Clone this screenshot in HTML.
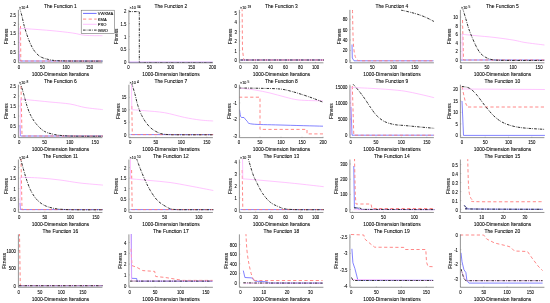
<!DOCTYPE html>
<html><head><meta charset="utf-8"><style>
html,body{margin:0;padding:0;background:#fff;width:550px;height:303px;overflow:hidden}
svg{display:block;will-change:transform;filter:blur(0.3px)}
text{font-family:"Liberation Sans",sans-serif;stroke:#000;stroke-width:0.08px}
</style></head><body>
<svg width="550" height="303" viewBox="0 0 550 303" font-family="Liberation Sans, sans-serif" fill="#000"><defs><clipPath id="c0"><rect x="18.40" y="9.40" width="84.50" height="53.40"/></clipPath><clipPath id="c1"><rect x="128.90" y="9.40" width="84.50" height="53.40"/></clipPath><clipPath id="c2"><rect x="239.40" y="9.40" width="84.50" height="53.40"/></clipPath><clipPath id="c3"><rect x="349.90" y="9.40" width="84.50" height="53.40"/></clipPath><clipPath id="c4"><rect x="460.40" y="9.40" width="84.50" height="53.40"/></clipPath><clipPath id="c5"><rect x="18.40" y="84.23" width="84.50" height="53.40"/></clipPath><clipPath id="c6"><rect x="128.90" y="84.23" width="84.50" height="53.40"/></clipPath><clipPath id="c7"><rect x="239.40" y="84.23" width="84.50" height="53.40"/></clipPath><clipPath id="c8"><rect x="349.90" y="84.23" width="84.50" height="53.40"/></clipPath><clipPath id="c9"><rect x="460.40" y="84.23" width="84.50" height="53.40"/></clipPath><clipPath id="c10"><rect x="18.40" y="159.06" width="84.50" height="53.40"/></clipPath><clipPath id="c11"><rect x="128.90" y="159.06" width="84.50" height="53.40"/></clipPath><clipPath id="c12"><rect x="239.40" y="159.06" width="84.50" height="53.40"/></clipPath><clipPath id="c13"><rect x="349.90" y="159.06" width="84.50" height="53.40"/></clipPath><clipPath id="c14"><rect x="460.40" y="159.06" width="84.50" height="53.40"/></clipPath><clipPath id="c15"><rect x="18.40" y="233.89" width="84.50" height="53.40"/></clipPath><clipPath id="c16"><rect x="128.90" y="233.89" width="84.50" height="53.40"/></clipPath><clipPath id="c17"><rect x="239.40" y="233.89" width="84.50" height="53.40"/></clipPath><clipPath id="c18"><rect x="349.90" y="233.89" width="84.50" height="53.40"/></clipPath><clipPath id="c19"><rect x="460.40" y="233.89" width="84.50" height="53.40"/></clipPath></defs><g><g clip-path="url(#c0)">
<path d="M19.50,54.00 L19.80,61.00 L102.50,61.00" stroke="#5a5aff" stroke-width="0.75" fill="none"/>
<path d="M20.50,26.00 L20.80,61.00 L102.50,61.00" stroke="#ff7a7a" stroke-width="0.9" fill="none" stroke-dasharray="3.2,2.4"/>
<path d="M19.50,61.00 L19.80,28.50" stroke="#ffb2ff" stroke-width="0.75" fill="none"/>
<path d="M19.80,28.50 C20.25,28.50 17.47,28.17 22.50,28.50 C27.53,28.83 41.67,29.75 50.00,30.50 C58.33,31.25 66.67,32.20 72.50,33.00 C78.33,33.80 80.00,34.85 85.00,35.30 C90.00,35.75 99.58,35.63 102.50,35.70" stroke="#ffb2ff" stroke-width="0.75" fill="none"/>
<path d="M19.60,8.00 C19.98,9.32 21.18,13.10 21.90,15.90 C22.62,18.70 23.07,21.67 23.90,24.80 C24.73,27.93 25.75,31.40 26.90,34.70 C28.05,38.00 29.48,41.80 30.80,44.60 C32.12,47.40 33.15,49.45 34.80,51.50 C36.45,53.55 38.38,55.57 40.70,56.90 C43.02,58.23 46.15,58.88 48.70,59.50 C51.25,60.12 52.45,60.35 56.00,60.60 C59.55,60.85 62.25,60.92 70.00,61.00 C77.75,61.08 97.08,61.08 102.50,61.10" stroke="#2e2e2e" stroke-width="1.0" fill="none" stroke-dasharray="2.6,1.1,0.7,1.1"/>
</g>
<path d="M18.40,9.90 L18.40,62.80 L102.40,62.80" stroke="#707070" stroke-width="0.75" fill="none"/>
<path d="M18.40,61.00 h0.9" stroke="#707070" stroke-width="0.4"/>
<text text-anchor="end" font-size="4.8" transform="translate(16.00,63.00) scale(0.9,1)">0</text>
<path d="M18.40,51.80 h0.9" stroke="#707070" stroke-width="0.4"/>
<text text-anchor="end" font-size="4.8" transform="translate(16.00,53.80) scale(0.9,1)">0.5</text>
<path d="M18.40,42.60 h0.9" stroke="#707070" stroke-width="0.4"/>
<text text-anchor="end" font-size="4.8" transform="translate(16.00,44.60) scale(0.9,1)">1</text>
<path d="M18.40,33.40 h0.9" stroke="#707070" stroke-width="0.4"/>
<text text-anchor="end" font-size="4.8" transform="translate(16.00,35.40) scale(0.9,1)">1.5</text>
<path d="M18.40,24.20 h0.9" stroke="#707070" stroke-width="0.4"/>
<text text-anchor="end" font-size="4.8" transform="translate(16.00,26.20) scale(0.9,1)">2</text>
<path d="M18.40,15.00 h0.9" stroke="#707070" stroke-width="0.4"/>
<text text-anchor="end" font-size="4.8" transform="translate(16.00,17.00) scale(0.9,1)">2.5</text>
<path d="M19.00,62.80 v-0.9" stroke="#707070" stroke-width="0.4"/>
<text text-anchor="middle" font-size="4.8" transform="translate(19.00,69.30) scale(0.9,1)">0</text>
<path d="M42.50,62.80 v-0.9" stroke="#707070" stroke-width="0.4"/>
<text text-anchor="middle" font-size="4.8" transform="translate(42.50,69.30) scale(0.9,1)">50</text>
<path d="M66.00,62.80 v-0.9" stroke="#707070" stroke-width="0.4"/>
<text text-anchor="middle" font-size="4.8" transform="translate(66.00,69.30) scale(0.9,1)">100</text>
<path d="M89.50,62.80 v-0.9" stroke="#707070" stroke-width="0.4"/>
<text text-anchor="middle" font-size="4.8" transform="translate(89.50,69.30) scale(0.9,1)">150</text>
<text text-anchor="middle" font-size="5.30" transform="translate(60.40,8.00) scale(0.930,1)" class="b">The Function 1</text>
<text text-anchor="middle" font-size="5.30" transform="translate(60.40,76.10) scale(0.930,1)" class="b">1000-Dimension Iterations</text>
<text x="0" y="0" text-anchor="middle" font-size="5.3" transform="translate(7.87,36.35) rotate(-90) scale(0.93,1)">Fitness</text>
<text x="0.00" y="9.50" font-size="4.0" transform="translate(19.00,0) scale(0.92,1) translate(0.00,0)">&#215;10<tspan font-size="3.6" dx="1.4" dy="-1.5">4</tspan></text>
<g clip-path="url(#c1)">
<path d="M128.50,62.30 L212.50,62.30" stroke="#5a5aff" stroke-width="0.75" fill="none"/>
<path d="M128.50,62.10 L212.50,62.10" stroke="#ffb2ff" stroke-width="0.75" fill="none"/>
<path d="M128.50,11.60 L139.30,11.60 L139.30,62.60 L212.50,62.60" stroke="#2e2e2e" stroke-width="1.0" fill="none" stroke-dasharray="2.6,1.1,0.7,1.1"/>
</g>
<path d="M128.90,9.90 L128.90,62.80 L212.90,62.80" stroke="#707070" stroke-width="0.75" fill="none"/>
<path d="M128.90,62.30 h0.9" stroke="#707070" stroke-width="0.4"/>
<text text-anchor="end" font-size="4.8" transform="translate(126.50,64.30) scale(0.9,1)">0</text>
<path d="M128.90,49.40 h0.9" stroke="#707070" stroke-width="0.4"/>
<text text-anchor="end" font-size="4.8" transform="translate(126.50,51.40) scale(0.9,1)">0.5</text>
<path d="M128.90,36.50 h0.9" stroke="#707070" stroke-width="0.4"/>
<text text-anchor="end" font-size="4.8" transform="translate(126.50,38.50) scale(0.9,1)">1</text>
<path d="M128.90,23.60 h0.9" stroke="#707070" stroke-width="0.4"/>
<text text-anchor="end" font-size="4.8" transform="translate(126.50,25.60) scale(0.9,1)">1.5</text>
<path d="M128.90,10.70 h0.9" stroke="#707070" stroke-width="0.4"/>
<text text-anchor="end" font-size="4.8" transform="translate(126.50,12.70) scale(0.9,1)">2</text>
<path d="M128.50,62.80 v-0.9" stroke="#707070" stroke-width="0.4"/>
<text text-anchor="middle" font-size="4.8" transform="translate(128.50,69.30) scale(0.9,1)">0</text>
<path d="M149.50,62.80 v-0.9" stroke="#707070" stroke-width="0.4"/>
<text text-anchor="middle" font-size="4.8" transform="translate(149.50,69.30) scale(0.9,1)">50</text>
<path d="M170.50,62.80 v-0.9" stroke="#707070" stroke-width="0.4"/>
<text text-anchor="middle" font-size="4.8" transform="translate(170.50,69.30) scale(0.9,1)">100</text>
<path d="M191.50,62.80 v-0.9" stroke="#707070" stroke-width="0.4"/>
<text text-anchor="middle" font-size="4.8" transform="translate(191.50,69.30) scale(0.9,1)">150</text>
<path d="M212.50,62.80 v-0.9" stroke="#707070" stroke-width="0.4"/>
<text text-anchor="middle" font-size="4.8" transform="translate(212.50,69.30) scale(0.9,1)">200</text>
<text text-anchor="middle" font-size="5.30" transform="translate(170.90,8.00) scale(0.930,1)" class="b">The Function 2</text>
<text text-anchor="middle" font-size="5.30" transform="translate(170.90,76.10) scale(0.930,1)" class="b">1000-Dimension Iterations</text>
<text x="0" y="0" text-anchor="middle" font-size="5.3" transform="translate(118.37,36.35) rotate(-90) scale(0.93,1)">Fitness</text>
<text x="0.00" y="9.50" font-size="4.0" transform="translate(129.50,0) scale(0.92,1) translate(0.00,0)">&#215;10<tspan font-size="3.6" dx="1.4" dy="-1.5">34</tspan></text>
<g clip-path="url(#c2)">
<path d="M240.50,60.00 L324.00,60.00" stroke="#5a5aff" stroke-width="0.75" fill="none"/>
<path d="M242.10,8.00 L242.50,50.00 L243.80,60.00 L324.00,60.00" stroke="#ff7a7a" stroke-width="0.9" fill="none" stroke-dasharray="3.2,2.4"/>
<path d="M240.50,60.00 L324.00,60.00" stroke="#ffb2ff" stroke-width="0.75" fill="none"/>
<path d="M240.50,60.00 L324.00,60.00" stroke="#2e2e2e" stroke-width="1.0" fill="none" stroke-dasharray="2.6,1.1,0.7,1.1"/>
</g>
<path d="M239.40,9.90 L239.40,62.80 L323.40,62.80" stroke="#707070" stroke-width="0.75" fill="none"/>
<path d="M239.40,60.00 h0.9" stroke="#707070" stroke-width="0.4"/>
<text text-anchor="end" font-size="4.8" transform="translate(237.00,62.00) scale(0.9,1)">0</text>
<path d="M239.40,50.50 h0.9" stroke="#707070" stroke-width="0.4"/>
<text text-anchor="end" font-size="4.8" transform="translate(237.00,52.50) scale(0.9,1)">1</text>
<path d="M239.40,41.00 h0.9" stroke="#707070" stroke-width="0.4"/>
<text text-anchor="end" font-size="4.8" transform="translate(237.00,43.00) scale(0.9,1)">2</text>
<path d="M239.40,31.50 h0.9" stroke="#707070" stroke-width="0.4"/>
<text text-anchor="end" font-size="4.8" transform="translate(237.00,33.50) scale(0.9,1)">3</text>
<path d="M239.40,22.00 h0.9" stroke="#707070" stroke-width="0.4"/>
<text text-anchor="end" font-size="4.8" transform="translate(237.00,24.00) scale(0.9,1)">4</text>
<path d="M239.40,12.50 h0.9" stroke="#707070" stroke-width="0.4"/>
<text text-anchor="end" font-size="4.8" transform="translate(237.00,14.50) scale(0.9,1)">5</text>
<path d="M240.50,62.80 v-0.9" stroke="#707070" stroke-width="0.4"/>
<text text-anchor="middle" font-size="4.8" transform="translate(240.50,69.30) scale(0.9,1)">0</text>
<path d="M255.50,62.80 v-0.9" stroke="#707070" stroke-width="0.4"/>
<text text-anchor="middle" font-size="4.8" transform="translate(255.50,69.30) scale(0.9,1)">20</text>
<path d="M270.50,62.80 v-0.9" stroke="#707070" stroke-width="0.4"/>
<text text-anchor="middle" font-size="4.8" transform="translate(270.50,69.30) scale(0.9,1)">40</text>
<path d="M285.50,62.80 v-0.9" stroke="#707070" stroke-width="0.4"/>
<text text-anchor="middle" font-size="4.8" transform="translate(285.50,69.30) scale(0.9,1)">60</text>
<path d="M300.50,62.80 v-0.9" stroke="#707070" stroke-width="0.4"/>
<text text-anchor="middle" font-size="4.8" transform="translate(300.50,69.30) scale(0.9,1)">80</text>
<path d="M315.50,62.80 v-0.9" stroke="#707070" stroke-width="0.4"/>
<text text-anchor="middle" font-size="4.8" transform="translate(315.50,69.30) scale(0.9,1)">100</text>
<text text-anchor="middle" font-size="5.30" transform="translate(281.40,8.00) scale(0.930,1)" class="b">The Function 3</text>
<text text-anchor="middle" font-size="5.30" transform="translate(281.40,76.10) scale(0.930,1)" class="b">1000-Dimension Iterations</text>
<text x="0" y="0" text-anchor="middle" font-size="5.3" transform="translate(232.46,36.35) rotate(-90) scale(0.93,1)">Fitness</text>
<text x="0.00" y="9.50" font-size="4.0" transform="translate(240.00,0) scale(0.92,1) translate(0.00,0)">&#215;10<tspan font-size="3.6" dx="1.4" dy="-1.5">19</tspan></text>
<g clip-path="url(#c3)">
<path d="M352.00,44.50 L352.30,58.00 L354.00,60.80 L433.50,60.80" stroke="#5a5aff" stroke-width="0.75" fill="none"/>
<path d="M352.50,10.00 C352.62,15.00 352.85,32.67 353.20,40.00 C353.55,47.33 353.97,50.70 354.60,54.00 C355.23,57.30 356.10,58.70 357.00,59.80 C357.90,60.90 359.17,60.43 360.00,60.60 C360.83,60.77 361.67,60.77 362.00,60.80" stroke="#ff7a7a" stroke-width="0.9" fill="none" stroke-dasharray="3.2,2.4"/>
<path d="M362.00,60.80 L433.50,60.80" stroke="#ff7a7a" stroke-width="0.9" fill="none" stroke-dasharray="3.2,2.4"/>
<path d="M401.00,10.00 C403.33,10.58 411.00,12.33 415.00,13.50 C419.00,14.67 421.83,15.67 425.00,17.00 C428.17,18.33 432.50,20.75 434.00,21.50" stroke="#2e2e2e" stroke-width="1.0" fill="none" stroke-dasharray="2.6,1.1,0.7,1.1"/>
</g>
<path d="M349.90,9.90 L349.90,62.80 L433.90,62.80" stroke="#707070" stroke-width="0.75" fill="none"/>
<path d="M349.90,60.80 h0.9" stroke="#707070" stroke-width="0.4"/>
<text text-anchor="end" font-size="4.8" transform="translate(347.50,62.80) scale(0.9,1)">0</text>
<path d="M349.90,50.40 h0.9" stroke="#707070" stroke-width="0.4"/>
<text text-anchor="end" font-size="4.8" transform="translate(347.50,52.40) scale(0.9,1)">20</text>
<path d="M349.90,40.00 h0.9" stroke="#707070" stroke-width="0.4"/>
<text text-anchor="end" font-size="4.8" transform="translate(347.50,42.00) scale(0.9,1)">40</text>
<path d="M349.90,29.60 h0.9" stroke="#707070" stroke-width="0.4"/>
<text text-anchor="end" font-size="4.8" transform="translate(347.50,31.60) scale(0.9,1)">60</text>
<path d="M349.90,19.20 h0.9" stroke="#707070" stroke-width="0.4"/>
<text text-anchor="end" font-size="4.8" transform="translate(347.50,21.20) scale(0.9,1)">80</text>
<path d="M351.00,62.80 v-0.9" stroke="#707070" stroke-width="0.4"/>
<text text-anchor="middle" font-size="4.8" transform="translate(351.00,69.30) scale(0.9,1)">0</text>
<path d="M372.30,62.80 v-0.9" stroke="#707070" stroke-width="0.4"/>
<text text-anchor="middle" font-size="4.8" transform="translate(372.30,69.30) scale(0.9,1)">50</text>
<path d="M393.60,62.80 v-0.9" stroke="#707070" stroke-width="0.4"/>
<text text-anchor="middle" font-size="4.8" transform="translate(393.60,69.30) scale(0.9,1)">100</text>
<path d="M414.90,62.80 v-0.9" stroke="#707070" stroke-width="0.4"/>
<text text-anchor="middle" font-size="4.8" transform="translate(414.90,69.30) scale(0.9,1)">150</text>
<text text-anchor="middle" font-size="5.30" transform="translate(391.90,8.00) scale(0.930,1)" class="b">The Function 4</text>
<text text-anchor="middle" font-size="5.30" transform="translate(391.90,76.10) scale(0.930,1)" class="b">1000-Dimension Iterations</text>
<text x="0" y="0" text-anchor="middle" font-size="5.3" transform="translate(340.57,36.35) rotate(-90) scale(0.93,1)">Fitness</text>
<g clip-path="url(#c4)">
<path d="M461.00,60.00 L544.50,60.00" stroke="#5a5aff" stroke-width="0.75" fill="none"/>
<path d="M462.50,20.00 L463.50,60.00 L544.50,60.00" stroke="#ff7a7a" stroke-width="0.9" fill="none" stroke-dasharray="3.2,2.4"/>
<path d="M462.00,60.00 L462.30,34.30" stroke="#ffb2ff" stroke-width="0.75" fill="none"/>
<path d="M462.30,34.30 C464.42,34.52 469.55,35.07 475.00,35.60 C480.45,36.13 488.50,36.73 495.00,37.50 C501.50,38.27 509.00,39.37 514.00,40.20 C519.00,41.03 519.92,41.70 525.00,42.50 C530.08,43.30 541.25,44.58 544.50,45.00" stroke="#ffb2ff" stroke-width="0.75" fill="none"/>
<path d="M462.50,8.00 C462.97,9.50 464.45,14.17 465.30,17.00 C466.15,19.83 466.77,22.33 467.60,25.00 C468.43,27.67 468.98,29.67 470.30,33.00 C471.62,36.33 473.97,41.83 475.50,45.00 C477.03,48.17 478.17,50.17 479.50,52.00 C480.83,53.83 481.83,54.83 483.50,56.00 C485.17,57.17 487.25,58.30 489.50,59.00 C491.75,59.70 492.75,59.95 497.00,60.20 C501.25,60.45 507.08,60.45 515.00,60.50 C522.92,60.55 539.58,60.50 544.50,60.50" stroke="#2e2e2e" stroke-width="1.0" fill="none" stroke-dasharray="2.6,1.1,0.7,1.1"/>
</g>
<path d="M460.40,9.90 L460.40,62.80 L544.40,62.80" stroke="#707070" stroke-width="0.75" fill="none"/>
<path d="M460.40,60.00 h0.9" stroke="#707070" stroke-width="0.4"/>
<text text-anchor="end" font-size="4.8" transform="translate(458.00,62.00) scale(0.9,1)">0</text>
<path d="M460.40,51.40 h0.9" stroke="#707070" stroke-width="0.4"/>
<text text-anchor="end" font-size="4.8" transform="translate(458.00,53.40) scale(0.9,1)">2</text>
<path d="M460.40,42.80 h0.9" stroke="#707070" stroke-width="0.4"/>
<text text-anchor="end" font-size="4.8" transform="translate(458.00,44.80) scale(0.9,1)">4</text>
<path d="M460.40,34.20 h0.9" stroke="#707070" stroke-width="0.4"/>
<text text-anchor="end" font-size="4.8" transform="translate(458.00,36.20) scale(0.9,1)">6</text>
<path d="M460.40,25.60 h0.9" stroke="#707070" stroke-width="0.4"/>
<text text-anchor="end" font-size="4.8" transform="translate(458.00,27.60) scale(0.9,1)">8</text>
<path d="M460.40,17.00 h0.9" stroke="#707070" stroke-width="0.4"/>
<text text-anchor="end" font-size="4.8" transform="translate(458.00,19.00) scale(0.9,1)">10</text>
<path d="M461.00,62.80 v-0.9" stroke="#707070" stroke-width="0.4"/>
<text text-anchor="middle" font-size="4.8" transform="translate(461.00,69.30) scale(0.9,1)">0</text>
<path d="M487.00,62.80 v-0.9" stroke="#707070" stroke-width="0.4"/>
<text text-anchor="middle" font-size="4.8" transform="translate(487.00,69.30) scale(0.9,1)">50</text>
<path d="M513.00,62.80 v-0.9" stroke="#707070" stroke-width="0.4"/>
<text text-anchor="middle" font-size="4.8" transform="translate(513.00,69.30) scale(0.9,1)">100</text>
<path d="M539.00,62.80 v-0.9" stroke="#707070" stroke-width="0.4"/>
<text text-anchor="middle" font-size="4.8" transform="translate(539.00,69.30) scale(0.9,1)">150</text>
<text text-anchor="middle" font-size="5.30" transform="translate(502.40,8.00) scale(0.930,1)" class="b">The Function 5</text>
<text text-anchor="middle" font-size="5.30" transform="translate(502.40,76.10) scale(0.930,1)" class="b">1000-Dimension Iterations</text>
<text x="0" y="0" text-anchor="middle" font-size="5.3" transform="translate(451.07,36.35) rotate(-90) scale(0.93,1)">Fitness</text>
<text x="0.00" y="9.50" font-size="4.0" transform="translate(461.00,0) scale(0.92,1) translate(0.00,0)">&#215;10<tspan font-size="3.6" dx="1.4" dy="-1.5">5</tspan></text>
<g clip-path="url(#c5)">
<path d="M20.00,125.00 L20.50,136.00 L102.80,136.00" stroke="#5a5aff" stroke-width="0.75" fill="none"/>
<path d="M21.00,86.00 L22.00,136.00 L102.80,136.00" stroke="#ff7a7a" stroke-width="0.9" fill="none" stroke-dasharray="3.2,2.4"/>
<path d="M20.00,136.00 L20.50,99.00" stroke="#ffb2ff" stroke-width="0.75" fill="none"/>
<path d="M20.50,99.00 C22.08,99.17 25.08,99.50 30.00,100.00 C34.92,100.50 43.33,101.33 50.00,102.00 C56.67,102.67 64.17,103.08 70.00,104.00 C75.83,104.92 79.53,106.57 85.00,107.50 C90.47,108.43 99.83,109.25 102.80,109.60" stroke="#ffb2ff" stroke-width="0.75" fill="none"/>
<path d="M20.20,82.50 C20.82,84.57 22.78,91.03 23.90,94.90 C25.02,98.77 25.75,102.25 26.90,105.70 C28.05,109.15 29.15,112.45 30.80,115.60 C32.45,118.75 34.48,121.95 36.80,124.60 C39.12,127.25 41.73,129.85 44.70,131.50 C47.67,133.15 51.22,133.78 54.60,134.50 C57.98,135.22 60.77,135.52 65.00,135.80 C69.23,136.08 73.70,136.13 80.00,136.20 C86.30,136.27 99.00,136.20 102.80,136.20" stroke="#2e2e2e" stroke-width="1.0" fill="none" stroke-dasharray="2.6,1.1,0.7,1.1"/>
</g>
<path d="M18.40,84.73 L18.40,137.63 L102.40,137.63" stroke="#707070" stroke-width="0.75" fill="none"/>
<path d="M18.40,136.00 h0.9" stroke="#707070" stroke-width="0.4"/>
<text text-anchor="end" font-size="4.8" transform="translate(16.00,138.00) scale(0.9,1)">0</text>
<path d="M18.40,126.00 h0.9" stroke="#707070" stroke-width="0.4"/>
<text text-anchor="end" font-size="4.8" transform="translate(16.00,128.00) scale(0.9,1)">0.5</text>
<path d="M18.40,116.00 h0.9" stroke="#707070" stroke-width="0.4"/>
<text text-anchor="end" font-size="4.8" transform="translate(16.00,118.00) scale(0.9,1)">1</text>
<path d="M18.40,106.00 h0.9" stroke="#707070" stroke-width="0.4"/>
<text text-anchor="end" font-size="4.8" transform="translate(16.00,108.00) scale(0.9,1)">1.5</text>
<path d="M18.40,96.00 h0.9" stroke="#707070" stroke-width="0.4"/>
<text text-anchor="end" font-size="4.8" transform="translate(16.00,98.00) scale(0.9,1)">2</text>
<path d="M18.40,86.00 h0.9" stroke="#707070" stroke-width="0.4"/>
<text text-anchor="end" font-size="4.8" transform="translate(16.00,88.00) scale(0.9,1)">2.5</text>
<path d="M19.30,137.63 v-0.9" stroke="#707070" stroke-width="0.4"/>
<text text-anchor="middle" font-size="4.8" transform="translate(19.30,144.13) scale(0.9,1)">0</text>
<path d="M44.60,137.63 v-0.9" stroke="#707070" stroke-width="0.4"/>
<text text-anchor="middle" font-size="4.8" transform="translate(44.60,144.13) scale(0.9,1)">50</text>
<path d="M69.90,137.63 v-0.9" stroke="#707070" stroke-width="0.4"/>
<text text-anchor="middle" font-size="4.8" transform="translate(69.90,144.13) scale(0.9,1)">100</text>
<path d="M95.20,137.63 v-0.9" stroke="#707070" stroke-width="0.4"/>
<text text-anchor="middle" font-size="4.8" transform="translate(95.20,144.13) scale(0.9,1)">150</text>
<text text-anchor="middle" font-size="5.30" transform="translate(60.40,82.80) scale(0.930,1)" class="b">The Function 6</text>
<text text-anchor="middle" font-size="5.30" transform="translate(60.40,150.93) scale(0.930,1)" class="b">1000-Dimension Iterations</text>
<text x="0" y="0" text-anchor="middle" font-size="5.3" transform="translate(7.87,111.18) rotate(-90) scale(0.93,1)">Fitness</text>
<text x="0.00" y="84.33" font-size="4.0" transform="translate(19.00,0) scale(0.92,1) translate(0.00,0)">&#215;10<tspan font-size="3.6" dx="1.4" dy="-1.5">8</tspan></text>
<g clip-path="url(#c6)">
<path d="M130.50,134.60 L213.30,134.60" stroke="#5a5aff" stroke-width="0.75" fill="none"/>
<path d="M131.80,106.00 L132.30,134.60 L213.30,134.60" stroke="#ff7a7a" stroke-width="0.9" fill="none" stroke-dasharray="3.2,2.4"/>
<path d="M131.50,82.00 L131.80,109.70" stroke="#ffb2ff" stroke-width="0.75" fill="none"/>
<path d="M131.80,109.70 C133.97,109.87 139.33,110.20 144.80,110.70 C150.27,111.20 158.00,111.58 164.60,112.70 C171.20,113.82 178.50,116.18 184.40,117.40 C190.30,118.62 195.18,119.40 200.00,120.00 C204.82,120.60 211.08,120.83 213.30,121.00" stroke="#ffb2ff" stroke-width="0.75" fill="none"/>
<path d="M131.60,83.00 C132.15,84.82 133.85,90.12 134.90,93.90 C135.95,97.68 136.75,102.08 137.90,105.70 C139.05,109.32 140.32,112.62 141.80,115.60 C143.28,118.58 144.98,121.28 146.80,123.60 C148.62,125.92 150.40,127.85 152.70,129.50 C155.00,131.15 157.95,132.65 160.60,133.50 C163.25,134.35 165.37,134.38 168.60,134.60 C171.83,134.82 172.55,134.77 180.00,134.80 C187.45,134.83 207.75,134.80 213.30,134.80" stroke="#2e2e2e" stroke-width="1.0" fill="none" stroke-dasharray="2.6,1.1,0.7,1.1"/>
</g>
<path d="M128.90,84.73 L128.90,137.63 L212.90,137.63" stroke="#707070" stroke-width="0.75" fill="none"/>
<path d="M128.90,134.60 h0.9" stroke="#707070" stroke-width="0.4"/>
<text text-anchor="end" font-size="4.8" transform="translate(126.50,136.60) scale(0.9,1)">0</text>
<path d="M128.90,122.20 h0.9" stroke="#707070" stroke-width="0.4"/>
<text text-anchor="end" font-size="4.8" transform="translate(126.50,124.20) scale(0.9,1)">5</text>
<path d="M128.90,109.80 h0.9" stroke="#707070" stroke-width="0.4"/>
<text text-anchor="end" font-size="4.8" transform="translate(126.50,111.80) scale(0.9,1)">10</text>
<path d="M128.90,97.40 h0.9" stroke="#707070" stroke-width="0.4"/>
<text text-anchor="end" font-size="4.8" transform="translate(126.50,99.40) scale(0.9,1)">15</text>
<path d="M130.30,137.63 v-0.9" stroke="#707070" stroke-width="0.4"/>
<text text-anchor="middle" font-size="4.8" transform="translate(130.30,144.13) scale(0.9,1)">0</text>
<path d="M155.80,137.63 v-0.9" stroke="#707070" stroke-width="0.4"/>
<text text-anchor="middle" font-size="4.8" transform="translate(155.80,144.13) scale(0.9,1)">50</text>
<path d="M181.30,137.63 v-0.9" stroke="#707070" stroke-width="0.4"/>
<text text-anchor="middle" font-size="4.8" transform="translate(181.30,144.13) scale(0.9,1)">100</text>
<path d="M206.80,137.63 v-0.9" stroke="#707070" stroke-width="0.4"/>
<text text-anchor="middle" font-size="4.8" transform="translate(206.80,144.13) scale(0.9,1)">150</text>
<text text-anchor="middle" font-size="5.30" transform="translate(170.90,82.80) scale(0.930,1)" class="b">The Function 7</text>
<text text-anchor="middle" font-size="5.30" transform="translate(170.90,150.93) scale(0.930,1)" class="b">1000-Dimension Iterations</text>
<text x="0" y="0" text-anchor="middle" font-size="5.3" transform="translate(119.57,111.18) rotate(-90) scale(0.93,1)">Fitness</text>
<text x="0.00" y="84.33" font-size="4.0" transform="translate(129.50,0) scale(0.92,1) translate(0.00,0)">&#215;10<tspan font-size="3.6" dx="1.4" dy="-1.5">4</tspan></text>
<g clip-path="url(#c7)">
<path d="M239.50,109.60 C239.67,110.67 240.17,114.68 240.50,116.00 C240.83,117.32 241.33,117.25 241.50,117.50" stroke="#5a5aff" stroke-width="0.75" fill="none"/>
<path d="M241.50,117.50 L244.00,117.50" stroke="#5a5aff" stroke-width="0.75" fill="none"/>
<path d="M244.00,117.50 C244.50,118.08 245.67,119.92 247.00,121.00 C248.33,122.08 246.50,123.33 252.00,124.00 C257.50,124.67 268.17,124.63 280.00,125.00 C291.83,125.37 315.83,126.00 323.00,126.20" stroke="#5a5aff" stroke-width="0.75" fill="none"/>
<path d="M239.00,97.20 L260.00,97.20 L260.00,129.40 L307.00,129.40 L307.00,133.90 L323.00,133.90" stroke="#ff7a7a" stroke-width="0.9" fill="none" stroke-dasharray="3.2,2.4"/>
<path d="M239.00,88.00 C241.67,88.33 249.83,89.17 255.00,90.00 C260.17,90.83 265.00,91.83 270.00,93.00 C275.00,94.17 280.17,95.83 285.00,97.00 C289.83,98.17 292.67,99.35 299.00,100.00 C305.33,100.65 319.00,100.75 323.00,100.90" stroke="#ffb2ff" stroke-width="0.75" fill="none"/>
<path d="M239.00,88.00 C242.50,88.05 253.17,88.13 260.00,88.30 C266.83,88.47 274.67,88.47 280.00,89.00 C285.33,89.53 287.83,90.42 292.00,91.50 C296.17,92.58 301.17,94.25 305.00,95.50 C308.83,96.75 312.00,97.88 315.00,99.00 C318.00,100.12 321.67,101.67 323.00,102.20" stroke="#2e2e2e" stroke-width="1.0" fill="none" stroke-dasharray="2.6,1.1,0.7,1.1"/>
</g>
<path d="M239.40,84.73 L239.40,137.63 L323.40,137.63" stroke="#707070" stroke-width="0.75" fill="none"/>
<path d="M239.40,86.40 h0.9" stroke="#707070" stroke-width="0.4"/>
<text text-anchor="end" font-size="4.8" transform="translate(237.00,88.40) scale(0.9,1)">0</text>
<path d="M239.40,102.90 h0.9" stroke="#707070" stroke-width="0.4"/>
<text text-anchor="end" font-size="4.8" transform="translate(237.00,104.90) scale(0.9,1)">-1</text>
<path d="M239.40,119.40 h0.9" stroke="#707070" stroke-width="0.4"/>
<text text-anchor="end" font-size="4.8" transform="translate(237.00,121.40) scale(0.9,1)">-2</text>
<path d="M239.40,135.90 h0.9" stroke="#707070" stroke-width="0.4"/>
<text text-anchor="end" font-size="4.8" transform="translate(237.00,137.90) scale(0.9,1)">-3</text>
<path d="M239.00,137.63 v-0.9" stroke="#707070" stroke-width="0.4"/>
<text text-anchor="middle" font-size="4.8" transform="translate(239.00,144.13) scale(0.9,1)">0</text>
<path d="M260.00,137.63 v-0.9" stroke="#707070" stroke-width="0.4"/>
<text text-anchor="middle" font-size="4.8" transform="translate(260.00,144.13) scale(0.9,1)">50</text>
<path d="M281.00,137.63 v-0.9" stroke="#707070" stroke-width="0.4"/>
<text text-anchor="middle" font-size="4.8" transform="translate(281.00,144.13) scale(0.9,1)">100</text>
<path d="M302.00,137.63 v-0.9" stroke="#707070" stroke-width="0.4"/>
<text text-anchor="middle" font-size="4.8" transform="translate(302.00,144.13) scale(0.9,1)">150</text>
<path d="M323.00,137.63 v-0.9" stroke="#707070" stroke-width="0.4"/>
<text text-anchor="middle" font-size="4.8" transform="translate(323.00,144.13) scale(0.9,1)">200</text>
<text text-anchor="middle" font-size="5.30" transform="translate(281.40,82.80) scale(0.930,1)" class="b">The Function 8</text>
<text text-anchor="middle" font-size="5.30" transform="translate(281.40,150.93) scale(0.930,1)" class="b">1000-Dimension Iterations</text>
<text x="0" y="0" text-anchor="middle" font-size="5.3" transform="translate(231.03,111.18) rotate(-90) scale(0.93,1)">Fitness</text>
<text x="0.00" y="84.33" font-size="4.0" transform="translate(240.00,0) scale(0.92,1) translate(0.00,0)">&#215;10<tspan font-size="3.6" dx="1.4" dy="-1.5">5</tspan></text>
<g clip-path="url(#c8)">
<path d="M351.00,107.00 L352.00,135.20 L433.80,135.20" stroke="#5a5aff" stroke-width="0.75" fill="none"/>
<path d="M352.30,86.00 L353.80,135.20 L434.30,135.20" stroke="#ff7a7a" stroke-width="0.9" fill="none" stroke-dasharray="3.2,2.4"/>
<path d="M350.60,135.00 L351.00,87.50" stroke="#ffb2ff" stroke-width="0.75" fill="none"/>
<path d="M351.00,87.50 C354.17,87.63 363.50,87.95 370.00,88.30 C376.50,88.65 384.17,89.12 390.00,89.60 C395.83,90.08 400.00,90.42 405.00,91.20 C410.00,91.98 415.12,93.22 420.00,94.30 C424.88,95.38 431.92,97.13 434.30,97.70" stroke="#ffb2ff" stroke-width="0.75" fill="none"/>
<path d="M352.90,84.00 C353.90,85.15 356.92,88.43 358.90,90.90 C360.88,93.37 362.83,96.00 364.80,98.80 C366.77,101.60 368.72,104.90 370.70,107.70 C372.68,110.50 374.38,113.28 376.70,115.60 C379.02,117.92 381.63,120.10 384.60,121.60 C387.57,123.10 391.20,123.95 394.50,124.60 C397.80,125.25 400.15,125.10 404.40,125.50 C408.65,125.90 415.02,126.53 420.00,127.00 C424.98,127.47 431.92,128.08 434.30,128.30" stroke="#2e2e2e" stroke-width="1.0" fill="none" stroke-dasharray="2.6,1.1,0.7,1.1"/>
</g>
<path d="M349.90,84.73 L349.90,137.63 L433.90,137.63" stroke="#707070" stroke-width="0.75" fill="none"/>
<path d="M349.90,135.20 h0.9" stroke="#707070" stroke-width="0.4"/>
<text text-anchor="end" font-size="4.8" transform="translate(347.50,137.20) scale(0.9,1)">0</text>
<path d="M349.90,119.10 h0.9" stroke="#707070" stroke-width="0.4"/>
<text text-anchor="end" font-size="4.8" transform="translate(347.50,121.10) scale(0.9,1)">5000</text>
<path d="M349.90,103.00 h0.9" stroke="#707070" stroke-width="0.4"/>
<text text-anchor="end" font-size="4.8" transform="translate(347.50,105.00) scale(0.9,1)">10000</text>
<path d="M349.90,86.90 h0.9" stroke="#707070" stroke-width="0.4"/>
<text text-anchor="end" font-size="4.8" transform="translate(347.50,88.90) scale(0.9,1)">15000</text>
<path d="M350.60,137.63 v-0.9" stroke="#707070" stroke-width="0.4"/>
<text text-anchor="middle" font-size="4.8" transform="translate(350.60,144.13) scale(0.9,1)">0</text>
<path d="M376.00,137.63 v-0.9" stroke="#707070" stroke-width="0.4"/>
<text text-anchor="middle" font-size="4.8" transform="translate(376.00,144.13) scale(0.9,1)">50</text>
<path d="M401.40,137.63 v-0.9" stroke="#707070" stroke-width="0.4"/>
<text text-anchor="middle" font-size="4.8" transform="translate(401.40,144.13) scale(0.9,1)">100</text>
<path d="M426.80,137.63 v-0.9" stroke="#707070" stroke-width="0.4"/>
<text text-anchor="middle" font-size="4.8" transform="translate(426.80,144.13) scale(0.9,1)">150</text>
<text text-anchor="middle" font-size="5.30" transform="translate(391.90,82.80) scale(0.930,1)" class="b">The Function 9</text>
<text text-anchor="middle" font-size="5.30" transform="translate(391.90,150.93) scale(0.930,1)" class="b">1000-Dimension Iterations</text>
<text x="0" y="0" text-anchor="middle" font-size="5.3" transform="translate(333.39,111.18) rotate(-90) scale(0.93,1)">Fitness</text>
<g clip-path="url(#c9)">
<path d="M462.00,101.00 L463.50,135.40 L545.00,135.40" stroke="#5a5aff" stroke-width="0.75" fill="none"/>
<path d="M462.00,86.50 C462.33,88.08 463.33,93.08 464.00,96.00 C464.67,98.92 465.33,102.17 466.00,104.00 C466.67,105.83 467.67,106.50 468.00,107.00" stroke="#ff7a7a" stroke-width="0.9" fill="none" stroke-dasharray="3.2,2.4"/>
<path d="M468.00,107.00 L545.00,107.00" stroke="#ff7a7a" stroke-width="0.9" fill="none" stroke-dasharray="3.2,2.4"/>
<path d="M462.00,89.00 L545.00,89.50" stroke="#ffb2ff" stroke-width="0.75" fill="none"/>
<path d="M462.00,86.50 C463.17,86.75 466.67,86.75 469.00,88.00 C471.33,89.25 473.17,90.83 476.00,94.00 C478.83,97.17 482.83,103.17 486.00,107.00 C489.17,110.83 491.83,114.25 495.00,117.00 C498.17,119.75 500.83,121.75 505.00,123.50 C509.17,125.25 513.33,126.52 520.00,127.50 C526.67,128.48 540.83,129.08 545.00,129.40" stroke="#2e2e2e" stroke-width="1.0" fill="none" stroke-dasharray="2.6,1.1,0.7,1.1"/>
</g>
<path d="M460.40,84.73 L460.40,137.63 L544.40,137.63" stroke="#707070" stroke-width="0.75" fill="none"/>
<path d="M460.40,135.40 h0.9" stroke="#707070" stroke-width="0.4"/>
<text text-anchor="end" font-size="4.8" transform="translate(458.00,137.40) scale(0.9,1)">0</text>
<path d="M460.40,123.90 h0.9" stroke="#707070" stroke-width="0.4"/>
<text text-anchor="end" font-size="4.8" transform="translate(458.00,125.90) scale(0.9,1)">5</text>
<path d="M460.40,112.40 h0.9" stroke="#707070" stroke-width="0.4"/>
<text text-anchor="end" font-size="4.8" transform="translate(458.00,114.40) scale(0.9,1)">10</text>
<path d="M460.40,100.90 h0.9" stroke="#707070" stroke-width="0.4"/>
<text text-anchor="end" font-size="4.8" transform="translate(458.00,102.90) scale(0.9,1)">15</text>
<path d="M460.40,89.40 h0.9" stroke="#707070" stroke-width="0.4"/>
<text text-anchor="end" font-size="4.8" transform="translate(458.00,91.40) scale(0.9,1)">20</text>
<path d="M461.90,137.63 v-0.9" stroke="#707070" stroke-width="0.4"/>
<text text-anchor="middle" font-size="4.8" transform="translate(461.90,144.13) scale(0.9,1)">0</text>
<path d="M485.20,137.63 v-0.9" stroke="#707070" stroke-width="0.4"/>
<text text-anchor="middle" font-size="4.8" transform="translate(485.20,144.13) scale(0.9,1)">50</text>
<path d="M508.50,137.63 v-0.9" stroke="#707070" stroke-width="0.4"/>
<text text-anchor="middle" font-size="4.8" transform="translate(508.50,144.13) scale(0.9,1)">100</text>
<path d="M531.80,137.63 v-0.9" stroke="#707070" stroke-width="0.4"/>
<text text-anchor="middle" font-size="4.8" transform="translate(531.80,144.13) scale(0.9,1)">150</text>
<text text-anchor="middle" font-size="5.30" transform="translate(502.40,82.80) scale(0.930,1)" class="b">The Function 10</text>
<text text-anchor="middle" font-size="5.30" transform="translate(502.40,150.93) scale(0.930,1)" class="b">1000-Dimension Iterations</text>
<text x="0" y="0" text-anchor="middle" font-size="5.3" transform="translate(451.07,111.18) rotate(-90) scale(0.93,1)">Fitness</text>
<g clip-path="url(#c10)">
<path d="M20.00,203.00 L20.50,209.60 L103.00,209.60" stroke="#5a5aff" stroke-width="0.75" fill="none"/>
<path d="M21.00,158.00 L22.00,209.60 L103.00,209.60" stroke="#ff7a7a" stroke-width="0.9" fill="none" stroke-dasharray="3.2,2.4"/>
<path d="M20.00,209.60 L20.50,177.20" stroke="#ffb2ff" stroke-width="0.75" fill="none"/>
<path d="M20.50,177.20 C23.75,177.33 33.42,177.53 40.00,178.00 C46.58,178.47 53.33,179.17 60.00,180.00 C66.67,180.83 72.83,182.15 80.00,183.00 C87.17,183.85 99.17,184.75 103.00,185.10" stroke="#ffb2ff" stroke-width="0.75" fill="none"/>
<path d="M20.30,157.70 C20.90,159.88 22.80,166.97 23.90,170.80 C25.00,174.63 25.75,177.40 26.90,180.70 C28.05,184.00 29.15,187.45 30.80,190.60 C32.45,193.75 34.48,197.12 36.80,199.60 C39.12,202.08 41.73,204.02 44.70,205.50 C47.67,206.98 51.22,207.83 54.60,208.50 C57.98,209.17 60.77,209.28 65.00,209.50 C69.23,209.72 73.67,209.75 80.00,209.80 C86.33,209.85 99.17,209.80 103.00,209.80" stroke="#2e2e2e" stroke-width="1.0" fill="none" stroke-dasharray="2.6,1.1,0.7,1.1"/>
</g>
<path d="M18.40,159.56 L18.40,212.46 L102.40,212.46" stroke="#707070" stroke-width="0.75" fill="none"/>
<path d="M18.40,209.60 h0.9" stroke="#707070" stroke-width="0.4"/>
<text text-anchor="end" font-size="4.8" transform="translate(16.00,211.60) scale(0.9,1)">0</text>
<path d="M18.40,199.10 h0.9" stroke="#707070" stroke-width="0.4"/>
<text text-anchor="end" font-size="4.8" transform="translate(16.00,201.10) scale(0.9,1)">0.5</text>
<path d="M18.40,188.60 h0.9" stroke="#707070" stroke-width="0.4"/>
<text text-anchor="end" font-size="4.8" transform="translate(16.00,190.60) scale(0.9,1)">1</text>
<path d="M18.40,178.10 h0.9" stroke="#707070" stroke-width="0.4"/>
<text text-anchor="end" font-size="4.8" transform="translate(16.00,180.10) scale(0.9,1)">1.5</text>
<path d="M18.40,167.60 h0.9" stroke="#707070" stroke-width="0.4"/>
<text text-anchor="end" font-size="4.8" transform="translate(16.00,169.60) scale(0.9,1)">2</text>
<path d="M19.30,212.46 v-0.9" stroke="#707070" stroke-width="0.4"/>
<text text-anchor="middle" font-size="4.8" transform="translate(19.30,218.96) scale(0.9,1)">0</text>
<path d="M44.80,212.46 v-0.9" stroke="#707070" stroke-width="0.4"/>
<text text-anchor="middle" font-size="4.8" transform="translate(44.80,218.96) scale(0.9,1)">50</text>
<path d="M70.30,212.46 v-0.9" stroke="#707070" stroke-width="0.4"/>
<text text-anchor="middle" font-size="4.8" transform="translate(70.30,218.96) scale(0.9,1)">100</text>
<path d="M95.80,212.46 v-0.9" stroke="#707070" stroke-width="0.4"/>
<text text-anchor="middle" font-size="4.8" transform="translate(95.80,218.96) scale(0.9,1)">150</text>
<text text-anchor="middle" font-size="5.30" transform="translate(60.40,158.30) scale(0.930,1)" class="b">The Function 11</text>
<text text-anchor="middle" font-size="5.30" transform="translate(60.40,225.76) scale(0.930,1)" class="b">1000-Dimension Iterations</text>
<text x="0" y="0" text-anchor="middle" font-size="5.3" transform="translate(7.87,186.01) rotate(-90) scale(0.93,1)">Fitness</text>
<text x="0.00" y="159.16" font-size="4.0" transform="translate(19.00,0) scale(0.92,1) translate(0.00,0)">&#215;10<tspan font-size="3.6" dx="1.4" dy="-1.5">4</tspan></text>
<g clip-path="url(#c11)">
<path d="M130.50,209.60 L213.80,209.60" stroke="#5a5aff" stroke-width="0.75" fill="none"/>
<path d="M131.60,170.00 L132.20,209.60 L213.80,209.60" stroke="#ff7a7a" stroke-width="0.9" fill="none" stroke-dasharray="3.2,2.4"/>
<path d="M130.50,158.20 L130.50,178.80" stroke="#ffb2ff" stroke-width="0.75" fill="none"/>
<path d="M130.50,178.80 C133.75,179.08 143.42,179.88 150.00,180.50 C156.58,181.12 163.33,181.58 170.00,182.50 C176.67,183.42 182.70,184.65 190.00,186.00 C197.30,187.35 209.83,189.83 213.80,190.60" stroke="#ffb2ff" stroke-width="0.75" fill="none"/>
<path d="M136.40,158.20 C137.00,159.83 138.57,164.37 140.00,168.00 C141.43,171.63 143.33,176.33 145.00,180.00 C146.67,183.67 148.00,186.67 150.00,190.00 C152.00,193.33 154.50,197.33 157.00,200.00 C159.50,202.67 162.33,204.45 165.00,206.00 C167.67,207.55 168.83,208.68 173.00,209.30 C177.17,209.92 183.20,209.63 190.00,209.70 C196.80,209.77 209.83,209.70 213.80,209.70" stroke="#2e2e2e" stroke-width="1.0" fill="none" stroke-dasharray="2.6,1.1,0.7,1.1"/>
</g>
<path d="M128.90,159.56 L128.90,212.46 L212.90,212.46" stroke="#707070" stroke-width="0.75" fill="none"/>
<path d="M128.90,209.60 h0.9" stroke="#707070" stroke-width="0.4"/>
<text text-anchor="end" font-size="4.8" transform="translate(126.50,211.60) scale(0.9,1)">0</text>
<path d="M128.90,199.10 h0.9" stroke="#707070" stroke-width="0.4"/>
<text text-anchor="end" font-size="4.8" transform="translate(126.50,201.10) scale(0.9,1)">0.5</text>
<path d="M128.90,188.60 h0.9" stroke="#707070" stroke-width="0.4"/>
<text text-anchor="end" font-size="4.8" transform="translate(126.50,190.60) scale(0.9,1)">1</text>
<path d="M128.90,178.10 h0.9" stroke="#707070" stroke-width="0.4"/>
<text text-anchor="end" font-size="4.8" transform="translate(126.50,180.10) scale(0.9,1)">1.5</text>
<path d="M128.90,167.60 h0.9" stroke="#707070" stroke-width="0.4"/>
<text text-anchor="end" font-size="4.8" transform="translate(126.50,169.60) scale(0.9,1)">2</text>
<path d="M130.60,212.46 v-0.9" stroke="#707070" stroke-width="0.4"/>
<text text-anchor="middle" font-size="4.8" transform="translate(130.60,218.96) scale(0.9,1)">0</text>
<path d="M164.70,212.46 v-0.9" stroke="#707070" stroke-width="0.4"/>
<text text-anchor="middle" font-size="4.8" transform="translate(164.70,218.96) scale(0.9,1)">50</text>
<path d="M198.80,212.46 v-0.9" stroke="#707070" stroke-width="0.4"/>
<text text-anchor="middle" font-size="4.8" transform="translate(198.80,218.96) scale(0.9,1)">100</text>
<text text-anchor="middle" font-size="5.30" transform="translate(170.90,158.30) scale(0.930,1)" class="b">The Function 12</text>
<text text-anchor="middle" font-size="5.30" transform="translate(170.90,225.76) scale(0.930,1)" class="b">1000-Dimension Iterations</text>
<text x="0" y="0" text-anchor="middle" font-size="5.3" transform="translate(118.37,186.01) rotate(-90) scale(0.93,1)">Fitness</text>
<text x="0.00" y="159.16" font-size="4.0" transform="translate(129.50,0) scale(0.92,1) translate(0.00,0)">&#215;10<tspan font-size="3.6" dx="1.4" dy="-1.5">10</tspan></text>
<g clip-path="url(#c12)">
<path d="M240.60,209.60 L323.80,209.60" stroke="#5a5aff" stroke-width="0.75" fill="none"/>
<path d="M242.20,170.00 L242.80,209.60 L323.80,209.60" stroke="#ff7a7a" stroke-width="0.9" fill="none" stroke-dasharray="3.2,2.4"/>
<path d="M242.50,157.00 L242.80,178.80" stroke="#ffb2ff" stroke-width="0.75" fill="none"/>
<path d="M242.80,178.80 C245.67,179.03 253.80,179.67 260.00,180.20 C266.20,180.73 273.33,181.37 280.00,182.00 C286.67,182.63 292.70,183.22 300.00,184.00 C307.30,184.78 319.83,186.25 323.80,186.70" stroke="#ffb2ff" stroke-width="0.75" fill="none"/>
<path d="M247.90,157.50 C248.72,160.22 251.32,169.60 252.80,173.80 C254.28,178.00 255.15,179.40 256.80,182.70 C258.45,186.00 260.40,190.30 262.70,193.60 C265.00,196.90 267.63,200.18 270.60,202.50 C273.57,204.82 277.85,206.40 280.50,207.50 C283.15,208.60 283.25,208.73 286.50,209.10 C289.75,209.47 293.78,209.60 300.00,209.70 C306.22,209.80 319.83,209.70 323.80,209.70" stroke="#2e2e2e" stroke-width="1.0" fill="none" stroke-dasharray="2.6,1.1,0.7,1.1"/>
</g>
<path d="M239.40,159.56 L239.40,212.46 L323.40,212.46" stroke="#707070" stroke-width="0.75" fill="none"/>
<path d="M239.40,209.60 h0.9" stroke="#707070" stroke-width="0.4"/>
<text text-anchor="end" font-size="4.8" transform="translate(237.00,211.60) scale(0.9,1)">0</text>
<path d="M239.40,197.80 h0.9" stroke="#707070" stroke-width="0.4"/>
<text text-anchor="end" font-size="4.8" transform="translate(237.00,199.80) scale(0.9,1)">1</text>
<path d="M239.40,186.00 h0.9" stroke="#707070" stroke-width="0.4"/>
<text text-anchor="end" font-size="4.8" transform="translate(237.00,188.00) scale(0.9,1)">2</text>
<path d="M239.40,174.20 h0.9" stroke="#707070" stroke-width="0.4"/>
<text text-anchor="end" font-size="4.8" transform="translate(237.00,176.20) scale(0.9,1)">3</text>
<path d="M239.40,162.40 h0.9" stroke="#707070" stroke-width="0.4"/>
<text text-anchor="end" font-size="4.8" transform="translate(237.00,164.40) scale(0.9,1)">4</text>
<path d="M240.60,212.46 v-0.9" stroke="#707070" stroke-width="0.4"/>
<text text-anchor="middle" font-size="4.8" transform="translate(240.60,218.96) scale(0.9,1)">0</text>
<path d="M255.60,212.46 v-0.9" stroke="#707070" stroke-width="0.4"/>
<text text-anchor="middle" font-size="4.8" transform="translate(255.60,218.96) scale(0.9,1)">20</text>
<path d="M270.60,212.46 v-0.9" stroke="#707070" stroke-width="0.4"/>
<text text-anchor="middle" font-size="4.8" transform="translate(270.60,218.96) scale(0.9,1)">40</text>
<path d="M285.60,212.46 v-0.9" stroke="#707070" stroke-width="0.4"/>
<text text-anchor="middle" font-size="4.8" transform="translate(285.60,218.96) scale(0.9,1)">60</text>
<path d="M300.60,212.46 v-0.9" stroke="#707070" stroke-width="0.4"/>
<text text-anchor="middle" font-size="4.8" transform="translate(300.60,218.96) scale(0.9,1)">80</text>
<path d="M315.60,212.46 v-0.9" stroke="#707070" stroke-width="0.4"/>
<text text-anchor="middle" font-size="4.8" transform="translate(315.60,218.96) scale(0.9,1)">100</text>
<text text-anchor="middle" font-size="5.30" transform="translate(281.40,158.30) scale(0.930,1)" class="b">The Function 13</text>
<text text-anchor="middle" font-size="5.30" transform="translate(281.40,225.76) scale(0.930,1)" class="b">1000-Dimension Iterations</text>
<text x="0" y="0" text-anchor="middle" font-size="5.3" transform="translate(232.46,186.01) rotate(-90) scale(0.93,1)">Fitness</text>
<text x="0.00" y="159.16" font-size="4.0" transform="translate(240.00,0) scale(0.92,1) translate(0.00,0)">&#215;10<tspan font-size="3.6" dx="1.4" dy="-1.5">10</tspan></text>
<g clip-path="url(#c13)">
<path d="M353.80,166.00 L354.40,207.90 L358.00,208.00 L358.50,209.40 L435.90,209.60" stroke="#5a5aff" stroke-width="0.75" fill="none"/>
<path d="M354.50,158.00 L355.30,195.00 L356.00,204.00 L371.00,204.00 L372.00,208.50 L435.90,208.50" stroke="#ff7a7a" stroke-width="0.9" fill="none" stroke-dasharray="3.2,2.4"/>
<path d="M353.50,209.70 L435.90,209.70" stroke="#ffb2ff" stroke-width="0.75" fill="none"/>
<path d="M354.00,207.80 L360.00,208.00 L362.00,209.40 L435.90,209.60" stroke="#2e2e2e" stroke-width="1.0" fill="none" stroke-dasharray="2.6,1.1,0.7,1.1"/>
</g>
<path d="M349.90,159.56 L349.90,212.46 L433.90,212.46" stroke="#707070" stroke-width="0.75" fill="none"/>
<path d="M349.90,209.60 h0.9" stroke="#707070" stroke-width="0.4"/>
<text text-anchor="end" font-size="4.8" transform="translate(347.50,211.60) scale(0.9,1)">0</text>
<path d="M349.90,194.40 h0.9" stroke="#707070" stroke-width="0.4"/>
<text text-anchor="end" font-size="4.8" transform="translate(347.50,196.40) scale(0.9,1)">100</text>
<path d="M349.90,179.20 h0.9" stroke="#707070" stroke-width="0.4"/>
<text text-anchor="end" font-size="4.8" transform="translate(347.50,181.20) scale(0.9,1)">200</text>
<path d="M349.90,164.00 h0.9" stroke="#707070" stroke-width="0.4"/>
<text text-anchor="end" font-size="4.8" transform="translate(347.50,166.00) scale(0.9,1)">300</text>
<path d="M352.40,212.46 v-0.9" stroke="#707070" stroke-width="0.4"/>
<text text-anchor="middle" font-size="4.8" transform="translate(352.40,218.96) scale(0.9,1)">0</text>
<path d="M383.40,212.46 v-0.9" stroke="#707070" stroke-width="0.4"/>
<text text-anchor="middle" font-size="4.8" transform="translate(383.40,218.96) scale(0.9,1)">50</text>
<path d="M414.40,212.46 v-0.9" stroke="#707070" stroke-width="0.4"/>
<text text-anchor="middle" font-size="4.8" transform="translate(414.40,218.96) scale(0.9,1)">100</text>
<text text-anchor="middle" font-size="5.30" transform="translate(391.90,158.30) scale(0.930,1)" class="b">The Function 14</text>
<text text-anchor="middle" font-size="5.30" transform="translate(391.90,225.76) scale(0.930,1)" class="b">1000-Dimension Iterations</text>
<text x="0" y="0" text-anchor="middle" font-size="5.3" transform="translate(338.18,186.01) rotate(-90) scale(0.93,1)">Fitness</text>
<g clip-path="url(#c14)">
<path d="M464.30,205.00 C464.75,205.50 465.72,207.33 467.00,208.00 C468.28,208.67 459.42,208.78 472.00,209.00 C484.58,209.22 530.75,209.25 542.50,209.30" stroke="#5a5aff" stroke-width="0.75" fill="none"/>
<path d="M467.70,158.00 C467.83,162.50 468.12,178.67 468.50,185.00 C468.88,191.33 469.25,193.42 470.00,196.00 C470.75,198.58 471.67,199.55 473.00,200.50 C474.33,201.45 466.42,201.50 478.00,201.70 C489.58,201.90 531.75,201.70 542.50,201.70" stroke="#ff7a7a" stroke-width="0.9" fill="none" stroke-dasharray="3.2,2.4"/>
<path d="M464.30,205.50 C464.75,205.95 465.72,207.62 467.00,208.20 C468.28,208.78 459.42,208.82 472.00,209.00 C484.58,209.18 530.75,209.25 542.50,209.30" stroke="#2e2e2e" stroke-width="1.0" fill="none" stroke-dasharray="2.6,1.1,0.7,1.1"/>
</g>
<path d="M460.40,159.56 L460.40,212.46 L544.40,212.46" stroke="#707070" stroke-width="0.75" fill="none"/>
<path d="M460.40,209.60 h0.9" stroke="#707070" stroke-width="0.4"/>
<text text-anchor="end" font-size="4.8" transform="translate(458.00,211.60) scale(0.9,1)">0</text>
<path d="M460.40,200.60 h0.9" stroke="#707070" stroke-width="0.4"/>
<text text-anchor="end" font-size="4.8" transform="translate(458.00,202.60) scale(0.9,1)">0.1</text>
<path d="M460.40,191.60 h0.9" stroke="#707070" stroke-width="0.4"/>
<text text-anchor="end" font-size="4.8" transform="translate(458.00,193.60) scale(0.9,1)">0.2</text>
<path d="M460.40,182.60 h0.9" stroke="#707070" stroke-width="0.4"/>
<text text-anchor="end" font-size="4.8" transform="translate(458.00,184.60) scale(0.9,1)">0.3</text>
<path d="M460.40,173.60 h0.9" stroke="#707070" stroke-width="0.4"/>
<text text-anchor="end" font-size="4.8" transform="translate(458.00,175.60) scale(0.9,1)">0.4</text>
<path d="M460.40,164.60 h0.9" stroke="#707070" stroke-width="0.4"/>
<text text-anchor="end" font-size="4.8" transform="translate(458.00,166.60) scale(0.9,1)">0.5</text>
<path d="M460.00,212.46 v-0.9" stroke="#707070" stroke-width="0.4"/>
<text text-anchor="middle" font-size="4.8" transform="translate(460.00,218.96) scale(0.9,1)">0</text>
<path d="M481.70,212.46 v-0.9" stroke="#707070" stroke-width="0.4"/>
<text text-anchor="middle" font-size="4.8" transform="translate(481.70,218.96) scale(0.9,1)">10</text>
<path d="M503.30,212.46 v-0.9" stroke="#707070" stroke-width="0.4"/>
<text text-anchor="middle" font-size="4.8" transform="translate(503.30,218.96) scale(0.9,1)">20</text>
<path d="M525.00,212.46 v-0.9" stroke="#707070" stroke-width="0.4"/>
<text text-anchor="middle" font-size="4.8" transform="translate(525.00,218.96) scale(0.9,1)">30</text>
<text text-anchor="middle" font-size="5.30" transform="translate(502.40,158.30) scale(0.930,1)" class="b">The Function 15</text>
<text text-anchor="middle" font-size="5.30" transform="translate(502.40,225.76) scale(0.930,1)" class="b">1000-Dimension Iterations</text>
<text x="0" y="0" text-anchor="middle" font-size="5.3" transform="translate(449.87,186.01) rotate(-90) scale(0.93,1)">Fitness</text>
<g clip-path="url(#c15)">
<path d="M19.00,285.70 L102.60,285.70" stroke="#5a5aff" stroke-width="0.75" fill="none"/>
<path d="M19.50,233.10 L20.30,285.70 L102.60,285.70" stroke="#ff7a7a" stroke-width="0.9" fill="none" stroke-dasharray="3.2,2.4"/>
<path d="M19.00,285.50 L102.60,285.50" stroke="#ffb2ff" stroke-width="0.75" fill="none"/>
<path d="M19.00,285.70 L102.60,285.70" stroke="#2e2e2e" stroke-width="1.0" fill="none" stroke-dasharray="2.6,1.1,0.7,1.1"/>
</g>
<path d="M18.40,234.39 L18.40,287.29 L102.40,287.29" stroke="#707070" stroke-width="0.75" fill="none"/>
<path d="M18.40,285.70 h0.9" stroke="#707070" stroke-width="0.4"/>
<text text-anchor="end" font-size="4.8" transform="translate(16.00,287.70) scale(0.9,1)">0</text>
<path d="M18.40,268.10 h0.9" stroke="#707070" stroke-width="0.4"/>
<text text-anchor="end" font-size="4.8" transform="translate(16.00,270.10) scale(0.9,1)">500</text>
<path d="M18.40,250.50 h0.9" stroke="#707070" stroke-width="0.4"/>
<text text-anchor="end" font-size="4.8" transform="translate(16.00,252.50) scale(0.9,1)">1000</text>
<path d="M18.60,287.29 v-0.9" stroke="#707070" stroke-width="0.4"/>
<text text-anchor="middle" font-size="4.8" transform="translate(18.60,293.79) scale(0.9,1)">0</text>
<path d="M40.00,287.29 v-0.9" stroke="#707070" stroke-width="0.4"/>
<text text-anchor="middle" font-size="4.8" transform="translate(40.00,293.79) scale(0.9,1)">50</text>
<path d="M61.40,287.29 v-0.9" stroke="#707070" stroke-width="0.4"/>
<text text-anchor="middle" font-size="4.8" transform="translate(61.40,293.79) scale(0.9,1)">100</text>
<path d="M82.80,287.29 v-0.9" stroke="#707070" stroke-width="0.4"/>
<text text-anchor="middle" font-size="4.8" transform="translate(82.80,293.79) scale(0.9,1)">150</text>
<text text-anchor="middle" font-size="5.30" transform="translate(60.40,233.30) scale(0.930,1)" class="b">The Function 16</text>
<text text-anchor="middle" font-size="5.30" transform="translate(60.40,300.59) scale(0.930,1)" class="b">1000-Dimension Iterations</text>
<text x="0" y="0" text-anchor="middle" font-size="5.3" transform="translate(5.90,260.84) rotate(-90) scale(0.93,1)">Fitness</text>
<g clip-path="url(#c16)">
<path d="M131.30,233.00 L131.60,278.30 L136.70,278.50 L137.00,281.20 L212.60,281.20" stroke="#5a5aff" stroke-width="0.75" fill="none"/>
<path d="M131.00,248.80 L132.00,265.60 L136.90,267.40 L142.80,270.60 L154.70,271.40 L155.70,276.50 L164.60,277.40 L170.50,278.30 L182.40,280.40 L212.60,280.40" stroke="#ff7a7a" stroke-width="0.9" fill="none" stroke-dasharray="3.2,2.4"/>
<path d="M131.00,233.00 L131.50,281.00 L212.60,281.00" stroke="#ffb2ff" stroke-width="0.75" fill="none"/>
<path d="M130.00,281.10 L212.60,281.10" stroke="#2e2e2e" stroke-width="1.0" fill="none" stroke-dasharray="2.6,1.1,0.7,1.1"/>
</g>
<path d="M128.90,234.39 L128.90,287.29 L212.90,287.29" stroke="#707070" stroke-width="0.75" fill="none"/>
<path d="M128.90,285.70 h0.9" stroke="#707070" stroke-width="0.4"/>
<text text-anchor="end" font-size="4.8" transform="translate(126.50,287.70) scale(0.9,1)">0</text>
<path d="M128.90,274.90 h0.9" stroke="#707070" stroke-width="0.4"/>
<text text-anchor="end" font-size="4.8" transform="translate(126.50,276.90) scale(0.9,1)">1</text>
<path d="M128.90,264.10 h0.9" stroke="#707070" stroke-width="0.4"/>
<text text-anchor="end" font-size="4.8" transform="translate(126.50,266.10) scale(0.9,1)">2</text>
<path d="M128.90,253.30 h0.9" stroke="#707070" stroke-width="0.4"/>
<text text-anchor="end" font-size="4.8" transform="translate(126.50,255.30) scale(0.9,1)">3</text>
<path d="M128.90,242.50 h0.9" stroke="#707070" stroke-width="0.4"/>
<text text-anchor="end" font-size="4.8" transform="translate(126.50,244.50) scale(0.9,1)">4</text>
<path d="M129.70,287.29 v-0.9" stroke="#707070" stroke-width="0.4"/>
<text text-anchor="middle" font-size="4.8" transform="translate(129.70,293.79) scale(0.9,1)">0</text>
<path d="M155.10,287.29 v-0.9" stroke="#707070" stroke-width="0.4"/>
<text text-anchor="middle" font-size="4.8" transform="translate(155.10,293.79) scale(0.9,1)">50</text>
<path d="M180.50,287.29 v-0.9" stroke="#707070" stroke-width="0.4"/>
<text text-anchor="middle" font-size="4.8" transform="translate(180.50,293.79) scale(0.9,1)">100</text>
<path d="M205.90,287.29 v-0.9" stroke="#707070" stroke-width="0.4"/>
<text text-anchor="middle" font-size="4.8" transform="translate(205.90,293.79) scale(0.9,1)">150</text>
<text text-anchor="middle" font-size="5.30" transform="translate(170.90,233.30) scale(0.930,1)" class="b">The Function 17</text>
<text text-anchor="middle" font-size="5.30" transform="translate(170.90,300.59) scale(0.930,1)" class="b">1000-Dimension Iterations</text>
<text x="0" y="0" text-anchor="middle" font-size="5.3" transform="translate(121.96,260.84) rotate(-90) scale(0.93,1)">Fitness</text>
<g clip-path="url(#c17)">
<path d="M243.30,270.60 L244.90,277.50 L251.80,277.90 L254.80,281.10 L267.70,281.90 L268.70,283.10 L322.60,283.10" stroke="#5a5aff" stroke-width="0.75" fill="none"/>
<path d="M245.90,233.00 C246.07,235.80 246.40,244.68 246.90,249.80 C247.40,254.92 248.08,259.42 248.90,263.70 C249.72,267.98 250.82,272.73 251.80,275.50 C252.78,278.27 253.43,279.47 254.80,280.30 C256.17,281.13 248.70,280.47 260.00,280.50 C271.30,280.53 312.17,280.50 322.60,280.50" stroke="#ff7a7a" stroke-width="0.9" fill="none" stroke-dasharray="3.2,2.4"/>
<path d="M243.30,283.20 L322.60,283.20" stroke="#ffb2ff" stroke-width="0.75" fill="none"/>
<path d="M243.30,282.80 L255.00,283.00 L322.60,283.10" stroke="#2e2e2e" stroke-width="1.0" fill="none" stroke-dasharray="2.6,1.1,0.7,1.1"/>
</g>
<path d="M239.40,234.39 L239.40,287.29 L323.40,287.29" stroke="#707070" stroke-width="0.75" fill="none"/>
<path d="M239.40,282.90 h0.9" stroke="#707070" stroke-width="0.4"/>
<text text-anchor="end" font-size="4.8" transform="translate(237.00,284.90) scale(0.9,1)">0</text>
<path d="M239.40,273.40 h0.9" stroke="#707070" stroke-width="0.4"/>
<text text-anchor="end" font-size="4.8" transform="translate(237.00,275.40) scale(0.9,1)">200</text>
<path d="M239.40,263.80 h0.9" stroke="#707070" stroke-width="0.4"/>
<text text-anchor="end" font-size="4.8" transform="translate(237.00,265.80) scale(0.9,1)">400</text>
<path d="M239.40,254.20 h0.9" stroke="#707070" stroke-width="0.4"/>
<text text-anchor="end" font-size="4.8" transform="translate(237.00,256.20) scale(0.9,1)">600</text>
<path d="M239.40,244.60 h0.9" stroke="#707070" stroke-width="0.4"/>
<text text-anchor="end" font-size="4.8" transform="translate(237.00,246.60) scale(0.9,1)">800</text>
<path d="M240.50,287.29 v-0.9" stroke="#707070" stroke-width="0.4"/>
<text text-anchor="middle" font-size="4.8" transform="translate(240.50,293.79) scale(0.9,1)">0</text>
<path d="M263.80,287.29 v-0.9" stroke="#707070" stroke-width="0.4"/>
<text text-anchor="middle" font-size="4.8" transform="translate(263.80,293.79) scale(0.9,1)">10</text>
<path d="M287.10,287.29 v-0.9" stroke="#707070" stroke-width="0.4"/>
<text text-anchor="middle" font-size="4.8" transform="translate(287.10,293.79) scale(0.9,1)">20</text>
<path d="M310.40,287.29 v-0.9" stroke="#707070" stroke-width="0.4"/>
<text text-anchor="middle" font-size="4.8" transform="translate(310.40,293.79) scale(0.9,1)">30</text>
<text text-anchor="middle" font-size="5.30" transform="translate(281.40,233.30) scale(0.930,1)" class="b">The Function 18</text>
<text text-anchor="middle" font-size="5.30" transform="translate(281.40,300.59) scale(0.930,1)" class="b">1000-Dimension Iterations</text>
<text x="0" y="0" text-anchor="middle" font-size="5.3" transform="translate(227.68,260.84) rotate(-90) scale(0.93,1)">Fitness</text>
<g clip-path="url(#c18)">
<path d="M351.90,248.80 L352.90,262.70 L354.90,268.60 L357.90,280.30 L433.20,280.30" stroke="#5a5aff" stroke-width="0.75" fill="none"/>
<path d="M351.00,234.50 L363.80,235.00 L364.80,239.00 L370.00,243.50 L374.70,247.20 L403.90,247.40 L405.00,249.50 L425.80,249.50 L426.50,262.00 L428.00,266.50 L433.20,266.70" stroke="#ff7a7a" stroke-width="0.9" fill="none" stroke-dasharray="3.2,2.4"/>
<path d="M351.50,279.50 L433.20,280.50" stroke="#ffb2ff" stroke-width="0.75" fill="none"/>
<path d="M351.50,277.50 L353.00,280.50 L433.20,280.50" stroke="#2e2e2e" stroke-width="1.0" fill="none" stroke-dasharray="2.6,1.1,0.7,1.1"/>
</g>
<path d="M349.90,234.39 L349.90,287.29 L433.90,287.29" stroke="#707070" stroke-width="0.75" fill="none"/>
<path d="M349.90,285.70 h0.9" stroke="#707070" stroke-width="0.4"/>
<text text-anchor="end" font-size="4.8" transform="translate(347.50,287.70) scale(0.9,1)">-4</text>
<path d="M349.90,269.50 h0.9" stroke="#707070" stroke-width="0.4"/>
<text text-anchor="end" font-size="4.8" transform="translate(347.50,271.50) scale(0.9,1)">-3.5</text>
<path d="M349.90,253.30 h0.9" stroke="#707070" stroke-width="0.4"/>
<text text-anchor="end" font-size="4.8" transform="translate(347.50,255.30) scale(0.9,1)">-3</text>
<path d="M349.90,237.10 h0.9" stroke="#707070" stroke-width="0.4"/>
<text text-anchor="end" font-size="4.8" transform="translate(347.50,239.10) scale(0.9,1)">-2.5</text>
<path d="M351.30,287.29 v-0.9" stroke="#707070" stroke-width="0.4"/>
<text text-anchor="middle" font-size="4.8" transform="translate(351.30,293.79) scale(0.9,1)">0</text>
<path d="M376.30,287.29 v-0.9" stroke="#707070" stroke-width="0.4"/>
<text text-anchor="middle" font-size="4.8" transform="translate(376.30,293.79) scale(0.9,1)">50</text>
<path d="M401.30,287.29 v-0.9" stroke="#707070" stroke-width="0.4"/>
<text text-anchor="middle" font-size="4.8" transform="translate(401.30,293.79) scale(0.9,1)">100</text>
<path d="M426.30,287.29 v-0.9" stroke="#707070" stroke-width="0.4"/>
<text text-anchor="middle" font-size="4.8" transform="translate(426.30,293.79) scale(0.9,1)">150</text>
<text text-anchor="middle" font-size="5.30" transform="translate(391.90,233.30) scale(0.930,1)" class="b">The Function 19</text>
<text text-anchor="middle" font-size="5.30" transform="translate(391.90,300.59) scale(0.930,1)" class="b">1000-Dimension Iterations</text>
<text x="0" y="0" text-anchor="middle" font-size="5.3" transform="translate(337.94,260.84) rotate(-90) scale(0.93,1)">Fitness</text>
<g clip-path="url(#c19)">
<path d="M461.00,252.80 L462.00,261.70 L463.90,269.60 L465.90,272.60 L466.90,280.50 L468.90,283.10 L542.60,283.10" stroke="#5a5aff" stroke-width="0.75" fill="none"/>
<path d="M460.00,235.00 L483.70,235.00 L486.70,239.00 L494.60,243.00 L506.50,245.80 L510.40,247.00 L514.40,251.00 L527.50,251.50 L532.00,258.00 L538.00,266.00 L542.60,270.60" stroke="#ff7a7a" stroke-width="0.9" fill="none" stroke-dasharray="3.2,2.4"/>
<path d="M461.00,270.00 L466.00,280.70 L542.60,280.70" stroke="#ffb2ff" stroke-width="0.75" fill="none"/>
<path d="M461.00,269.00 L464.00,279.00 L466.00,280.70 L542.60,280.70" stroke="#2e2e2e" stroke-width="1.0" fill="none" stroke-dasharray="2.6,1.1,0.7,1.1"/>
</g>
<path d="M460.40,234.39 L460.40,287.29 L544.40,287.29" stroke="#707070" stroke-width="0.75" fill="none"/>
<path d="M460.40,235.00 h0.9" stroke="#707070" stroke-width="0.4"/>
<text text-anchor="end" font-size="4.8" transform="translate(458.00,237.00) scale(0.9,1)">0</text>
<path d="M460.40,249.70 h0.9" stroke="#707070" stroke-width="0.4"/>
<text text-anchor="end" font-size="4.8" transform="translate(458.00,251.70) scale(0.9,1)">-1</text>
<path d="M460.40,264.40 h0.9" stroke="#707070" stroke-width="0.4"/>
<text text-anchor="end" font-size="4.8" transform="translate(458.00,266.40) scale(0.9,1)">-2</text>
<path d="M460.40,279.10 h0.9" stroke="#707070" stroke-width="0.4"/>
<text text-anchor="end" font-size="4.8" transform="translate(458.00,281.10) scale(0.9,1)">-3</text>
<path d="M460.50,287.29 v-0.9" stroke="#707070" stroke-width="0.4"/>
<text text-anchor="middle" font-size="4.8" transform="translate(460.50,293.79) scale(0.9,1)">0</text>
<path d="M483.80,287.29 v-0.9" stroke="#707070" stroke-width="0.4"/>
<text text-anchor="middle" font-size="4.8" transform="translate(483.80,293.79) scale(0.9,1)">50</text>
<path d="M507.10,287.29 v-0.9" stroke="#707070" stroke-width="0.4"/>
<text text-anchor="middle" font-size="4.8" transform="translate(507.10,293.79) scale(0.9,1)">100</text>
<path d="M530.40,287.29 v-0.9" stroke="#707070" stroke-width="0.4"/>
<text text-anchor="middle" font-size="4.8" transform="translate(530.40,293.79) scale(0.9,1)">150</text>
<text text-anchor="middle" font-size="5.30" transform="translate(502.40,233.30) scale(0.930,1)" class="b">The Function 20</text>
<text text-anchor="middle" font-size="5.30" transform="translate(502.40,300.59) scale(0.930,1)" class="b">1000-Dimension Iterations</text>
<text x="0" y="0" text-anchor="middle" font-size="5.3" transform="translate(452.03,260.84) rotate(-90) scale(0.93,1)">Fitness</text></g>
<rect x="81.2" y="10.2" width="33.4" height="23.3" fill="#fff" stroke="#555" stroke-width="0.5"/>
<path d="M83,13.4 H96.6" stroke="#5a5aff" stroke-width="0.9"/>
<path d="M83,19.1 H96.6" stroke="#ff7a7a" stroke-width="0.9" stroke-dasharray="3.2,2.4"/>
<path d="M83,24.3 H96.6" stroke="#ffb2ff" stroke-width="0.8"/>
<path d="M83,30.1 H96.6" stroke="#2e2e2e" stroke-width="0.95" stroke-dasharray="2.6,1.1,0.7,1.1"/>
<text x="97.8" y="14.90" font-size="4.10">VWKMA</text>
<text x="97.8" y="20.60" font-size="4.10">KMA</text>
<text x="97.8" y="25.80" font-size="4.10">PSO</text>
<text x="97.8" y="31.60" font-size="4.10">GWO</text></svg>
</body></html>
